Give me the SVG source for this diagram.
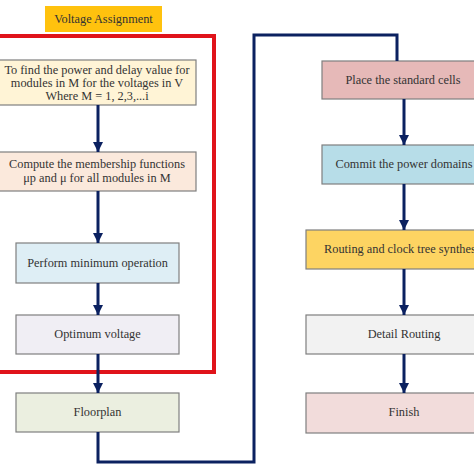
<svg xmlns="http://www.w3.org/2000/svg" width="474" height="474" viewBox="0 0 474 474">
<defs>
<marker id="ah" markerWidth="10" markerHeight="10" refX="10" refY="5" orient="auto" markerUnits="userSpaceOnUse" viewBox="0 0 10 10">
<path d="M0,0 L10,5 L0,10 Z" fill="#0b2160"/>
</marker>
</defs>
<style>
.box{stroke:#7f7f7f;stroke-width:1.2}
.t{font-family:"Liberation Serif","DejaVu Serif",serif;font-size:12.3px;fill:#333;text-anchor:middle}
.c{fill:none;stroke:#0b2160;stroke-width:3}
</style>
<rect width="474" height="474" fill="#fff"/>
<g id="voltage-assignment-frame">
<rect x="-4" y="36" width="218" height="336" fill="none" stroke="#e0131a" stroke-width="4"/>
</g>
<g id="voltage-assignment-label">
<rect x="45" y="6" width="117" height="26" fill="#ffc20e"/>
<text class="t" x="103.5" y="23">Voltage Assignment</text>
</g>
<g id="find-power-delay">
<rect class="box" x="-2" y="60" width="198" height="45" fill="#fff4d6"/>
<text class="t" x="97" y="74">To find the power and delay value for</text>
<text class="t" x="97" y="87">modules in M for the voltages in V</text>
<text class="t" x="97" y="100">Where M = 1, 2,3,...i</text>
</g>
<g id="membership-functions">
<rect class="box" x="-2" y="152" width="198" height="39" fill="#fbe9dc"/>
<text class="t" x="97" y="168">Compute the membership functions</text>
<text class="t" x="97" y="182">μp and μ for all modules in M</text>
</g>
<g id="minimum-operation">
<rect class="box" x="16" y="243" width="163" height="40" fill="#deeef5"/>
<text class="t" x="97.5" y="267">Perform minimum operation</text>
</g>
<g id="optimum-voltage">
<rect class="box" x="16" y="315" width="163" height="39" fill="#f0eef4"/>
<text class="t" x="97.5" y="338">Optimum voltage</text>
</g>
<g id="floorplan">
<rect class="box" x="16" y="393" width="163" height="39" fill="#ebefe0"/>
<text class="t" x="97.5" y="416">Floorplan</text>
</g>
<g id="place-cells">
<rect class="box" x="322" y="61" width="160" height="38" fill="#e6b9b8"/>
<text class="t" x="403" y="84">Place the standard cells</text>
</g>
<g id="commit-power">
<rect class="box" x="322" y="145" width="160" height="39" fill="#b7dde8"/>
<text class="t" x="404" y="168">Commit the power domains</text>
</g>
<g id="routing-cts">
<rect class="box" x="306" y="230" width="176" height="39" fill="#fdd462"/>
<text class="t" x="404" y="253">Routing and clock tree synthesis</text>
</g>
<g id="detail-routing">
<rect class="box" x="306" y="315" width="176" height="39" fill="#f2f2f2"/>
<text class="t" x="404" y="338">Detail Routing</text>
</g>
<g id="finish">
<rect class="box" x="306" y="393" width="176" height="40" fill="#f2dcdb"/>
<text class="t" x="404" y="416">Finish</text>
</g>
<g id="connectors">
<line class="c" x1="98" y1="105" x2="98" y2="152" marker-end="url(#ah)"/>
<line class="c" x1="98" y1="191" x2="98" y2="243" marker-end="url(#ah)"/>
<line class="c" x1="98" y1="283" x2="98" y2="315" marker-end="url(#ah)"/>
<line class="c" x1="98" y1="354" x2="98" y2="393" marker-end="url(#ah)"/>
<polyline class="c" points="98,432 98,462 254,462 254,35 397,35 397,61"/>
<line class="c" x1="404" y1="99" x2="404" y2="145" marker-end="url(#ah)"/>
<line class="c" x1="404" y1="184" x2="404" y2="230" marker-end="url(#ah)"/>
<line class="c" x1="404" y1="269" x2="404" y2="315" marker-end="url(#ah)"/>
<line class="c" x1="404" y1="354" x2="404" y2="393" marker-end="url(#ah)"/>
</g>
</svg>
